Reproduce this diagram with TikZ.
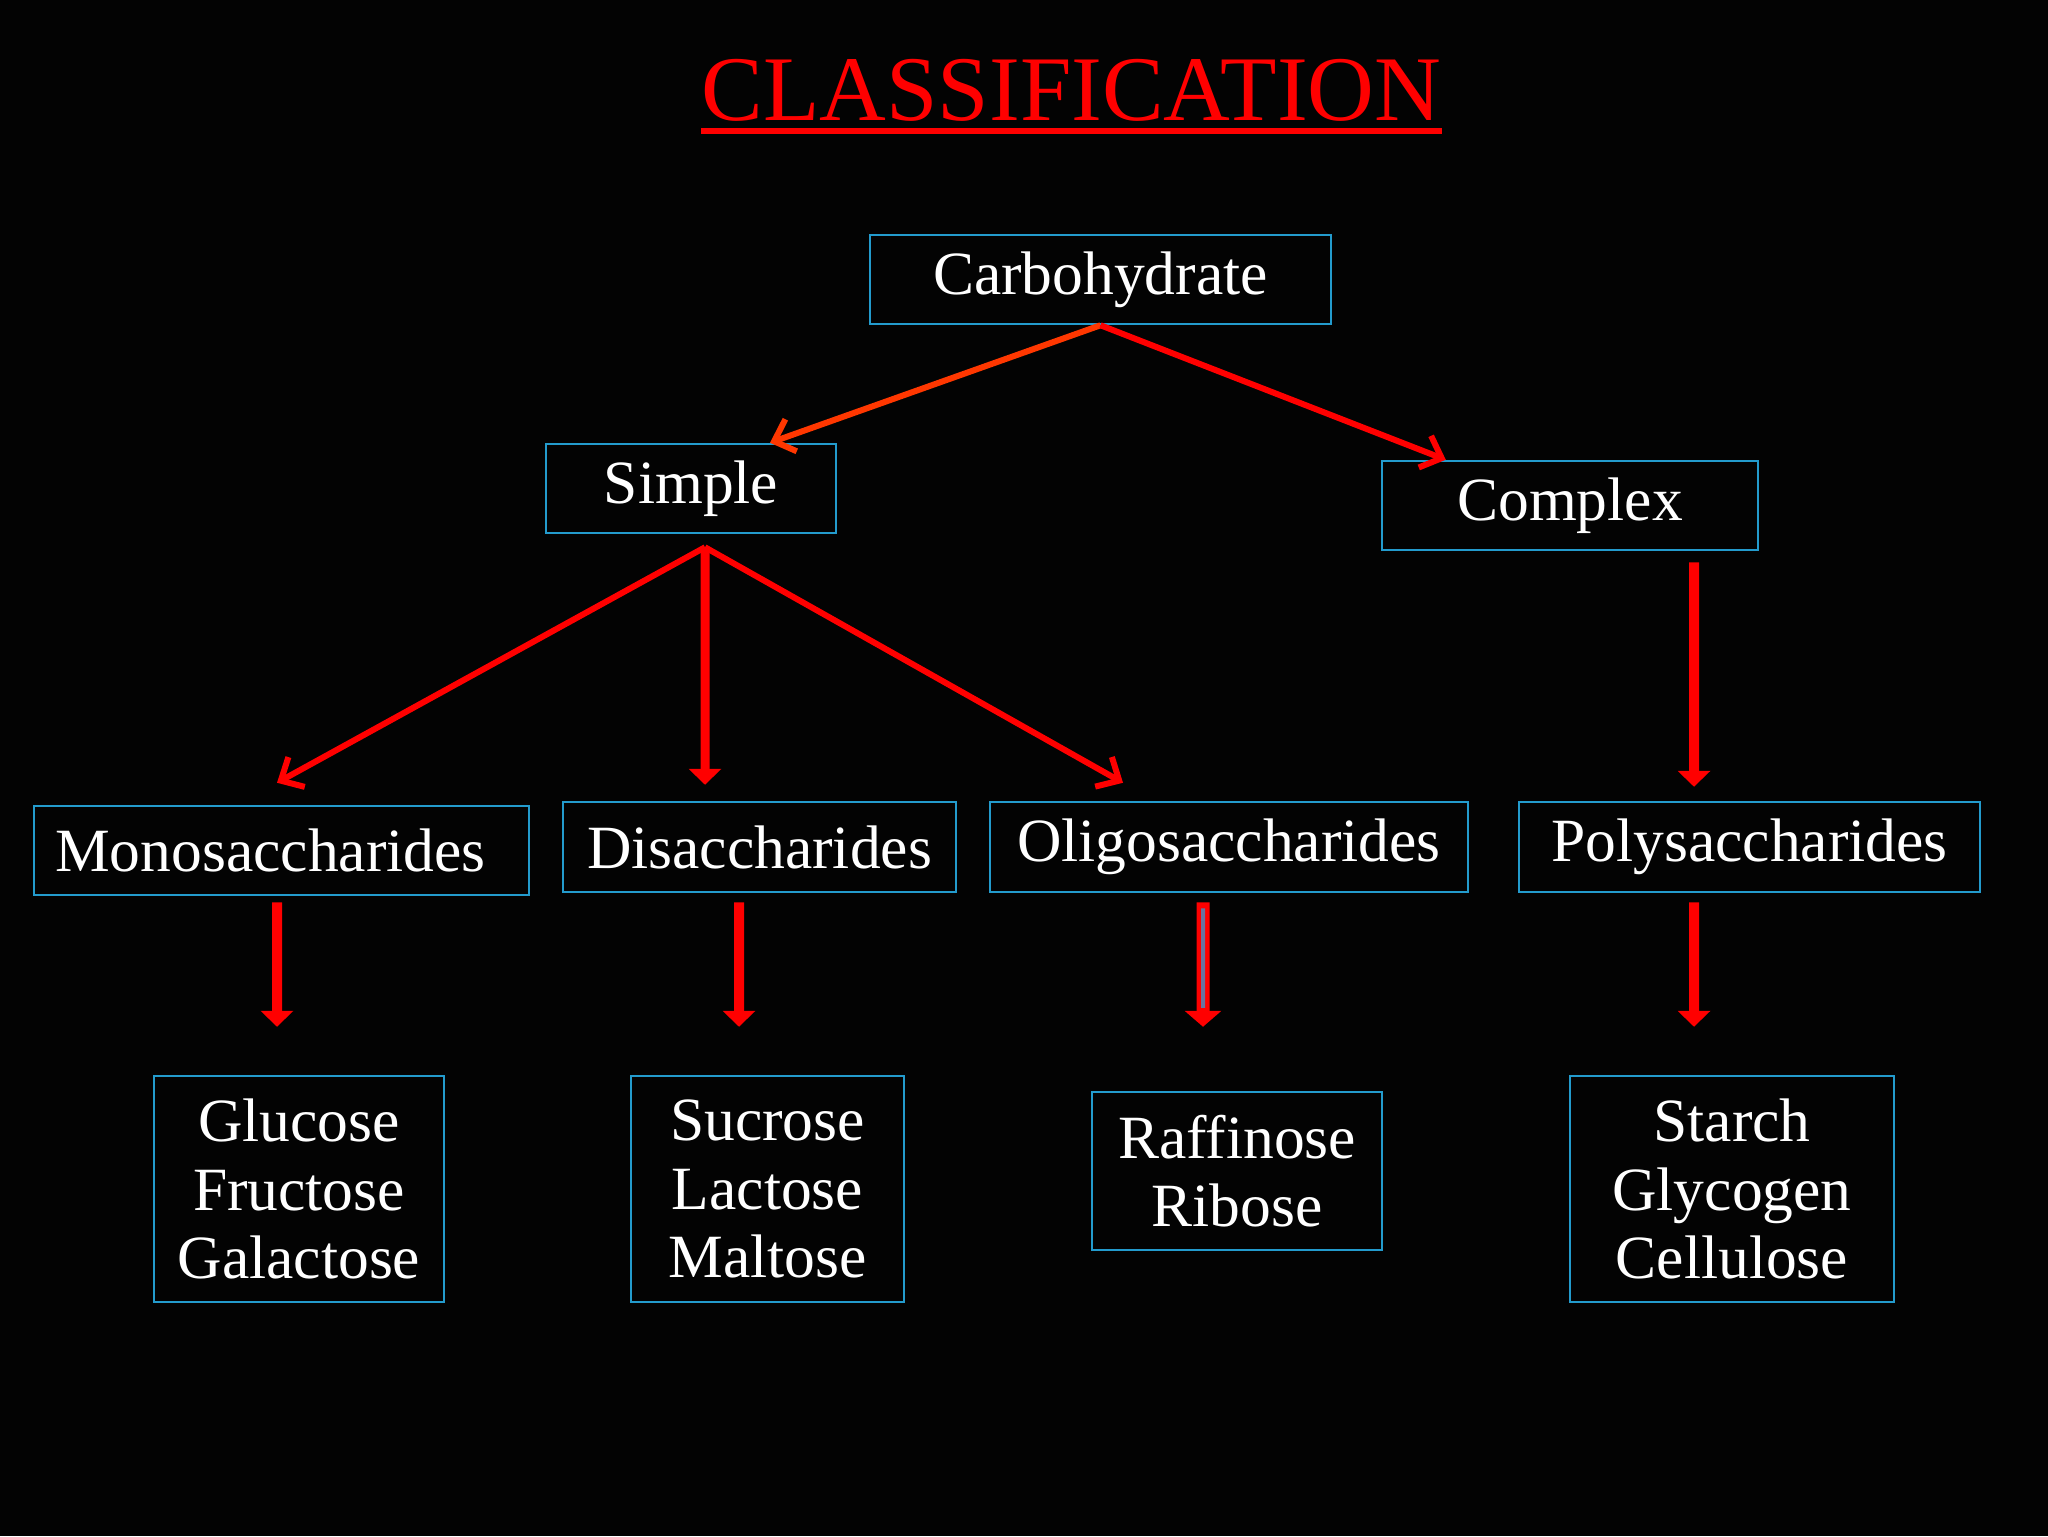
\documentclass[tikz,border=0pt]{standalone}
\usepackage{fontspec}
\setmainfont{Liberation Serif}
\usetikzlibrary{arrows.meta,calc}
\definecolor{boxblue}{RGB}{35,155,205}
\definecolor{orangered}{RGB}{255,55,0}
\definecolor{shaftgrey}{RGB}{105,115,160}
\tikzset{
  box/.style    = {draw=boxblue, line width=0.25mm, text=white, align=center,
                   font=\fontsize{17.5}{19.4}\selectfont, inner sep=0pt},
  diag/.style   = {red, line width=0.6mm,
                   -{Straight Barb[length=1.8mm,width=3.4mm]}},
  varrow/.style = {red, line width=1mm,
                   -{Triangle[length=1.6mm,width=3.2mm]}},
}
\begin{document}
\begin{tikzpicture}[x=0.1mm,y=-0.1mm]
  \fill[black!99] (0,0) rectangle (2048,1536);
  % title
  \node[text=red, font=\fontsize{26.3}{30}\selectfont, inner sep=0pt,
        anchor=base] (title) at (1071.5,120) {CLASSIFICATION};
  \draw[red, line width=0.6mm] ([yshift=-1.1mm]title.base west)
    -- ([yshift=-1.1mm]title.base east);
  % levels
  \node[box, minimum width=46.1mm, minimum height=8.9mm] (carb)    at (1100.5,279.5) {Carbohydrate};
  \node[box, minimum width=29mm,   minimum height=8.9mm] (simple)  at (691,488.5)    {Simple};
  \node[box, minimum width=37.6mm, minimum height=8.9mm] (complex) at (1570,505.5)   {Complex};
  \node[box, minimum width=49.5mm, minimum height=8.9mm] (mono)    at (281.5,850.5)  {Monosaccharides\hspace{2.2mm}};
  \node[box, minimum width=39.3mm, minimum height=9mm]   (di)      at (759.5,847)    {Disaccharides};
  \node[box, minimum width=47.8mm, minimum height=9mm]   (oligo)   at (1229,847)     {Oligosaccharides};
  \node[box, minimum width=46.1mm, minimum height=9mm]   (poly)    at (1749.5,847)   {Polysaccharides};
  \node[box, minimum width=29mm,   minimum height=22.6mm] (gluc)   at (299,1189)     {Glucose\\Fructose\\Galactose};
  \node[box, minimum width=27.3mm, minimum height=22.6mm] (sucr)   at (767.5,1189)   {Sucrose\\Lactose\\Maltose};
  \node[box, minimum width=29mm,   minimum height=15.8mm] (raff)   at (1237,1171)    {Raffinose\\Ribose};
  \node[box, minimum width=32.4mm, minimum height=22.6mm] (starch) at (1732,1189)    {Starch\\Glycogen\\Cellulose};
  % arrows
  \draw[diag, orangered] (carb.south) -- ([xshift=7.9mm]simple.north);
  \draw[diag] (carb.south) -- ([xshift=6.5mm]complex.north west);
  \coordinate (sfork) at ([xshift=1.4mm,yshift=-1.3mm]simple.south);
  \draw[diag] (sfork) -- ([xshift=-0.45mm,yshift=2.2mm]mono.north);
  \draw[varrow, line width=0.9mm] (sfork) -- ([xshift=-5.45mm,yshift=1.6mm]di.north);
  \draw[diag] (sfork) -- ([xshift=-10.6mm,yshift=1.8mm]oligo.north);
  \draw[varrow] ([xshift=12.4mm,yshift=-1.1mm]complex.south)
    -- ([xshift=-5.55mm,yshift=1.4mm]poly.north);
  \draw[varrow] ([xshift=-0.45mm,yshift=-0.6mm]mono.south)
    -- ([xshift=-2.2mm,yshift=4.8mm]gluc.north);
  \draw[varrow] ([xshift=-2.05mm,yshift=-0.9mm]di.south)
    -- ([xshift=-2.85mm,yshift=4.8mm]sucr.north);
  \draw[varrow, line width=1.3mm, -{Triangle[length=1.6mm,width=3.6mm]}]
    ([xshift=-2.6mm,yshift=-0.9mm]oligo.south)
    -- ([xshift=-3.4mm,yshift=6.4mm]raff.north);
  \draw[shaftgrey, line width=0.4mm] ([xshift=-2.6mm,yshift=-1.5mm]oligo.south)
    -- ([xshift=-3.4mm,yshift=8.3mm]raff.north);
  \draw[varrow] ([xshift=-5.55mm,yshift=-0.9mm]poly.south)
    -- ([xshift=-3.8mm,yshift=4.8mm]starch.north);
\end{tikzpicture}
\end{document}
